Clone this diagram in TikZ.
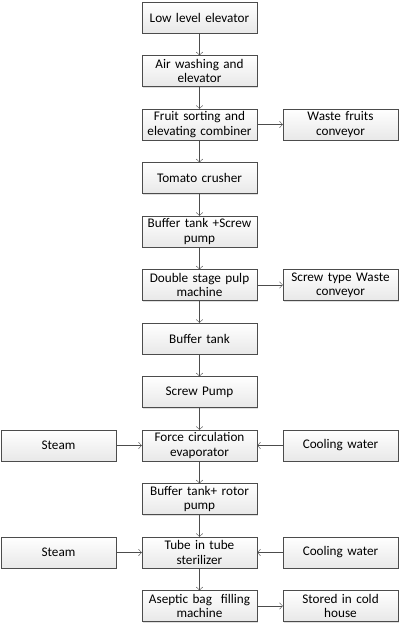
\documentclass[tikz,border=0pt]{standalone}
\usepackage{fontspec}
\setmainfont{Carlito}
\usetikzlibrary{arrows, arrows.meta, positioning, shadows}
\tikzstyle{process} = [rectangle, minimum width=115pt, text width=113pt, minimum height=31pt, inner xsep=1pt, inner ysep=0.5pt, align=center, draw=gray!60!black, top color=white, bottom color=gray!18, drop shadow={shadow xshift=1.2pt, shadow yshift=-1.2pt, opacity=0.25}, font=\fontsize{13.2}{14.4}\selectfont]
\tikzstyle{arrow} = [->, >={Straight Barb[length=3pt,width=6.5pt]}, draw=gray!60!black]

\begin{document}
\begin{tikzpicture}[node distance=53.5pt and 141pt, on grid]
\useasboundingbox (0,0) rectangle (400pt,-623pt);

% main line
\node (low) [process] at (199.5pt,-17.5pt) {Low level elevator};
\node (air) [process, below=of low] {Air washing and\\elevator};
\node (sort) [process, below=of air] {Fruit sorting and\\elevating combiner};
\node (crush) [process, below=of sort] {Tomato crusher};
\node (buf1) [process, below=of crush] {Buffer tank +Screw\\pump};
\node (pulp) [process, below=of buf1] {Double stage pulp\\machine};
\node (buf2) [process, below=of pulp] {Buffer tank};
\node (spump) [process, below=of buf2] {Screw Pump};
\node (evap) [process, below=of spump] {Force circulation\\evaporator};
\node (buf3) [process, below=of evap] {Buffer tank+ rotor\\pump};
\node (ster) [process, below=of buf3] {Tube in tube\\sterilizer};
\node (fill) [process, below=of ster] {Aseptic bag~ filling\\machine};

% side boxes
\node (waste) [process, right=of sort] {Waste fruits\\conveyor};
\node (screw) [process, right=of pulp] {Screw type Waste\\conveyor};
\node (steam1) [process, left=of evap] {Steam};
\node (cool1) [process, right=of evap] {Cooling water};
\node (steam2) [process, left=of ster] {Steam};
\node (cool2) [process, right=of ster] {Cooling water};
\node (cold) [process, right=of fill] {Stored in cold\\house};

\foreach \a/\b in {low/air, air/sort, sort/crush, crush/buf1, buf1/pulp, pulp/buf2, buf2/spump, spump/evap, evap/buf3, buf3/ster, ster/fill}
  \draw [arrow] (\a) -- (\b);

\draw [arrow] (sort) -- (waste);
\draw [arrow] (pulp) -- (screw);
\draw [arrow] (steam1) -- (evap);
\draw [arrow] (cool1) -- (evap);
\draw [arrow] (steam2) -- (ster);
\draw [arrow] (cool2) -- (ster);
\draw [arrow] (fill) -- (cold);

\end{tikzpicture}
\end{document}
